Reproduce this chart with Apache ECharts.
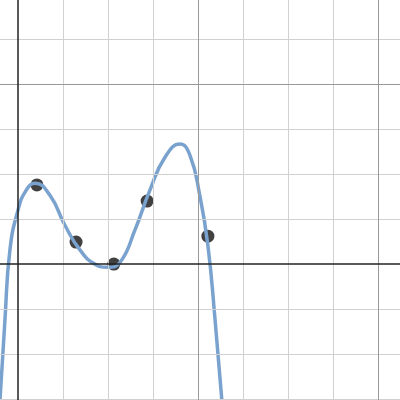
<!DOCTYPE html>
<html>
<head>
<meta charset="utf-8">
<script src="https://cdn.jsdelivr.net/npm/echarts@6/dist/echarts.min.js"></script>
<style>html,body{margin:0;padding:0;background:#fff}#DataChart{width:400px;height:400px}</style>
</head>
<body>
<div id="DataChart"></div>
<script>
// 数据
var points = [[0.42, 1.76], [1.29, 0.49], [2.13, 0.0], [2.87, 1.4], [4.22, 0.62]];
var curveX = [-0.4, -0.29, -0.18, 0, 0.18, 0.38, 0.71, 1.04, 1.38, 1.71, 2.0, 2.27, 2.6, 2.93, 3.27, 3.6, 3.82, 4.04, 4.22, 4.38, 4.53];
var curveY = [-3.02, -1.24, 0.31, 1.2, 1.64, 1.8, 1.53, 0.87, 0.31, 0, -0.07, 0.04, 0.76, 1.64, 2.38, 2.67, 2.42, 1.53, 0.42, -1.24, -3.02];
var gridX = [1, 2, 3, 5, 6, 7];
var majorX = [4, 8];
var gridY = [-3, -2, -1, 1, 2, 3, 5];
var majorY = [4];

var curve = curveX.map(function (x, i) { return [x, curveY[i]]; });

function lines(vals, key, color, width) {
    return vals.map(function (v) {
        var o = {lineStyle: {color: color, width: width, type: 'solid'}};
        o[key] = v;
        return o;
    });
}

var myChart = echarts.init(document.getElementById('DataChart'));

var option = {
    animation: false,
    grid: {left: 0, right: 0, top: 0, bottom: 0},
    xAxis: {
        type: 'value', min: -0.4, max: 8.49,
        axisLabel: {show: false}, axisTick: {show: false},
        axisLine: {show: false}, splitLine: {show: false}
    },
    yAxis: {
        type: 'value', min: -3.02, max: 5.87,
        axisLabel: {show: false}, axisTick: {show: false},
        axisLine: {show: false}, splitLine: {show: false}
    },
    series: [
        {
            type: 'line',
            data: [],
            markLine: {
                silent: true,
                symbol: 'none',
                label: {show: false},
                data: [].concat(
                    lines(gridX, 'xAxis', '#d0d0d0', 1),
                    lines(gridY, 'yAxis', '#d0d0d0', 1),
                    lines(majorX, 'xAxis', '#999999', 1),
                    lines(majorY, 'yAxis', '#999999', 1),
                    lines([0], 'xAxis', '#222222', 1.5),
                    lines([0], 'yAxis', '#222222', 1.5)
                )
            }
        },
        {
            type: 'line',
            data: curve,
            smooth: 0.5,
            showSymbol: false,
            lineStyle: {color: '#7aa2cf', width: 3.5}
        },
        {
            type: 'scatter',
            data: points,
            symbolSize: 13,
            itemStyle: {color: '#111111'}
        }
    ]
};

myChart.setOption(option);
</script>
</body>
</html>
